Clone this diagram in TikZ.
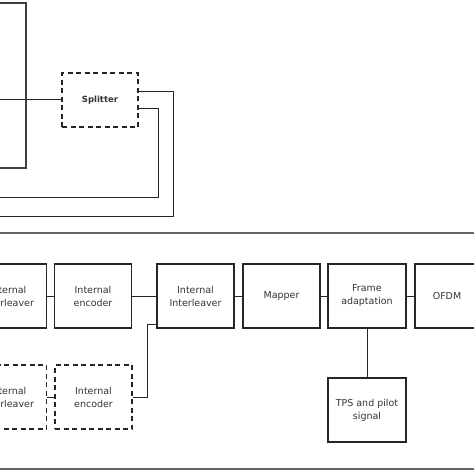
\documentclass[tikz,border=0pt]{standalone}
\usepackage{fontspec}
\setmainfont{DejaVu Sans}
\begin{document}
\begin{tikzpicture}[x=1pt,y=-1pt,
  blk/.style={draw=black!85, line width=1.3pt, minimum width=77pt, minimum height=64pt,
    inner sep=0pt, align=center, font=\fontsize{9.5}{13}\selectfont, text=black!80},
  dblk/.style={blk, dashed, dash pattern=on 5pt off 3.5pt},
  wire/.style={draw=black!85, line width=1pt},
  sep/.style={draw=black!60, line width=1.4pt}]
\useasboundingbox (0,0) rectangle (474,474);
% top section
\node[draw=black!75, line width=1.6pt, minimum width=90pt, minimum height=165pt, inner sep=0pt] (src) at (-19,85.5) {};
\node[dblk, minimum width=76pt, minimum height=54pt, font=\bfseries\fontsize{8.5}{10}\selectfont] (spl) at (100,100) {Splitter};
\coordinate (srcout) at (-40,99);
\draw[wire] (srcout) -- (srcout -| spl.west);
\coordinate (o1) at (138,91);
\coordinate (o2) at (138,108);
\coordinate (e1) at (-10,216);
\coordinate (e2) at (-10,197);
\draw[wire] (o1) -- (173,91) -- (173,216) -- (e1);
\draw[wire] (o2) -- (158,108) -- (158,197) -- (e2);
% separators
\coordinate (s1a) at (-5,233); \coordinate (s1b) at (480,233);
\coordinate (s2a) at (-5,469); \coordinate (s2b) at (480,469);
\draw[sep] (s1a) -- (s1b);
\draw[sep] (s2a) -- (s2b);
% bottom main chain
\node[blk] (il0) at (8,296) {Internal\\interleaver};
\node[blk] (enc0) at (93,296) {Internal\\encoder};
\node[blk] (il1) at (195.5,296) {Internal\\Interleaver};
\node[blk] (map) at (281.5,296) {Mapper};
\node[blk, minimum width=78pt] (frm) at (367,296) {Frame\\adaptation};
\node[blk, minimum width=64pt] (ofdm) at (447,296) {OFDM};
\node[blk, minimum width=78pt] (tps) at (367,410) {TPS and pilot\\signal};
\draw[wire] (il0) -- (enc0);
\draw[wire] (enc0) -- (il1);
\draw[wire] (il1) -- (map);
\draw[wire] (map) -- (frm);
\draw[wire] (frm) -- (ofdm);
\draw[wire] (frm) -- (tps);
% dashed branch
\node[dblk] (dil0) at (8,397) {Internal\\interleaver};
\node[dblk, minimum width=77pt] (denc0) at (93.5,397) {Internal\\encoder};
\draw[wire] (dil0) -- (denc0);
\draw[wire] (denc0.east) -- (147,397) -- (147,324) -- (il1.west |- 0,324);
\end{tikzpicture}
\end{document}
